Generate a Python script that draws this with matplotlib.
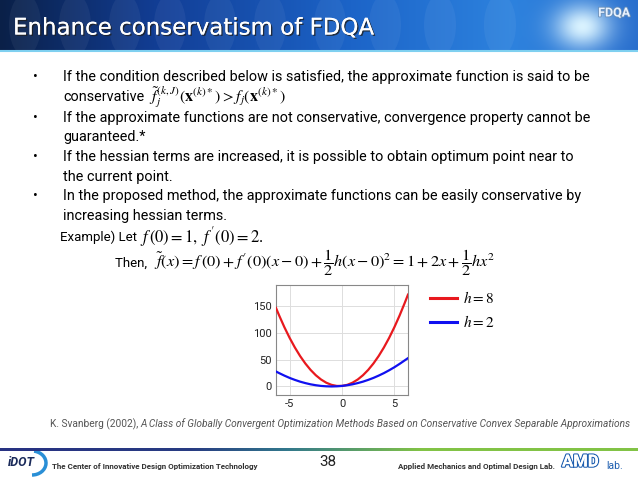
import numpy as np
import matplotlib
matplotlib.use("Agg")
import matplotlib.pyplot as plt
import matplotlib.patheffects as pe
from matplotlib.patches import Ellipse, Arc

plt.rcParams['font.family'] = ['Roboto', 'DejaVu Sans']
plt.rcParams['mathtext.fontset'] = 'stix'
plt.rcParams['axes.unicode_minus'] = False

# data: f~(x) = 1 + 2x + h/2 x^2
x_vals = [-6.3, -6, -5.5, -5, -4.5, -4, -3.5, -3, -2.5, -2, -1.5, -1, -0.5, 0,
          0.5, 1, 1.5, 2, 2.5, 3, 3.5, 4, 4.5, 5, 5.5, 6, 6.3]
h8_vals = [147, 133, 111, 91, 73, 57, 43, 31, 21, 13, 7, 3, 1, 1,
           3, 7, 13, 21, 31, 43, 57, 73, 91, 111, 133, 157, 172]
h2_vals = [28, 25, 20.3, 16, 12.3, 9, 6.3, 4, 2.3, 1, 0.3, 0, 0.3, 1,
           2.3, 4, 6.3, 9, 12.3, 16, 20.3, 25, 30.3, 36, 42.3, 49, 53]
series_labels = ['$h = 8$', '$h = 2$']
series_colors = ['#e8191e', '#1010f0']
y_ticks = [0, 50, 100, 150]
x_ticks = [-5, 0, 5]

bullets = [
    ["If the condition described below is satisfied, the approximate function is said to be",
     "conservative"],
    ["If the approximate functions are not conservative, convergence property cannot be",
     "guaranteed.*"],
    ["If the hessian terms are increased, it is possible to obtain optimum point near to",
     "the current point."],
    ["In the proposed method, the approximate functions can be easily conservative by",
     "increasing hessian terms."],
]
cons_math = r"$\tilde{f}_j^{(k,J)}(\mathbf{x}^{(k)*}) > f_j(\mathbf{x}^{(k)*})$"

W, H = 638, 478
fig = plt.figure(figsize=(W / 100, H / 100), dpi=100, facecolor='white')
bg = fig.add_axes([0, 0, 1, 1])
bg.set_xlim(0, W)
bg.set_ylim(H, 0)
bg.axis('off')

# ---- title bar gradient
gx = np.linspace(0, 1, W)
stops = [0, 0.25, 0.55, 0.8, 1.0]
cols = np.array([[10, 32, 72], [18, 62, 150], [28, 100, 200], [45, 130, 222], [40, 110, 205]]) / 255
bar = np.zeros((50, W, 3))
for c in range(3):
    bar[:, :, c] = np.interp(gx, stops, cols[:, c])[None, :]
yy, xx = np.mgrid[0:50, 0:W]
glow = np.exp(-(((xx - 582) / 28.0) ** 2 + ((yy - 26) / 22.0) ** 2))
bar = bar + glow[:, :, None] * (np.array([0.85, 0.95, 1.0]) - bar)
bg.imshow(bar, extent=[0, W, 50, 0], aspect='auto', zorder=1)
for ex in [25, 75, 125, 170, 220, 270, 330, 385, 440, 500]:
    bg.add_patch(Ellipse((ex, 25), 32, 62, facecolor='white', alpha=0.05,
                         edgecolor='none', zorder=2))
bg.plot([0, W], [50.5, 50.5], color='#7fd0f0', lw=1.5, zorder=3)
bg.text(13, 28, "Enhance conservatism of FDQA", color='white', fontsize=16.5,
        family='DejaVu Sans', va='center', ha='left', zorder=4,
        path_effects=[pe.withSimplePatchShadow(offset=(1, -1), shadow_rgbFace='#202020', alpha=0.8),
                      pe.Normal()])
bg.text(630, 13, "FDQA", color='#e8f2ff', fontsize=9, va='center', ha='right',
        fontweight='bold', zorder=4,
        path_effects=[pe.withStroke(linewidth=1.2, foreground='#6a8fb8')])

# ---- bullets
line_y = [77, 97, 118, 137, 157, 177, 196, 216]
k = 0
for b in bullets:
    bg.text(35, line_y[k], u"\u2022", fontsize=10, va='center', ha='center', color='black')
    for ln in b:
        t = bg.text(63, line_y[k], ln, fontsize=10.4, va='center', ha='left', color='black')
        if ln == "conservative":
            bg.annotate("  " + cons_math, xy=(1, 0.5), xycoords=t, fontsize=11.5,
                        va='center', ha='left')
        k += 1

# ---- example
t1 = bg.text(60, 237, "Example) Let ", fontsize=9.5, va='center', ha='left')
bg.annotate(r"$f\,(0) = 1,\ f\,'(0) = 2.$", xy=(1, 0.5), xycoords=t1, fontsize=12,
            va='center', ha='left')
t2 = bg.text(115, 263, "Then,  ", fontsize=9.5, va='center', ha='left')
bg.annotate(r"$\tilde{f}(x) = f\,(0) + f\,'(0)(x-0) + \dfrac{1}{2}h(x-0)^2 = 1 + 2x + \dfrac{1}{2}hx^2$",
            xy=(1, 0.5), xycoords=t2, fontsize=11.7, va='center', ha='left')

# ---- plot
ax = fig.add_axes([276 / W, 1 - 395 / H, 132 / W, 110 / H])
ax.plot(x_vals, h8_vals, color=series_colors[0], lw=1.6, zorder=3)
ax.plot(x_vals, h2_vals, color=series_colors[1], lw=1.6, zorder=3)
ax.set_xlim(-6.3, 6.3)
ax.set_ylim(-16, 190)
ax.set_xticks(x_ticks)
ax.set_yticks(y_ticks)
ax.grid(True, color='#dddddd', lw=0.7)
ax.tick_params(labelsize=8, length=0, pad=3, colors='#222222')
for s in ax.spines.values():
    s.set_color('#888888')
    s.set_linewidth(0.8)

# legend drawn at the right of the plot
for i, lab in enumerate(series_labels):
    ly = 298 + i * 24
    bg.plot([430, 457], [ly, ly], color=series_colors[i], lw=2.2)
    bg.text(463, ly, lab, fontsize=11, va='center', ha='left')

# ---- reference
ref = bg.text(50, 424, "K. Svanberg (2002), ", fontsize=7.25, color='#555555', va='center', ha='left')
bg.annotate("A Class of Globally Convergent Optimization Methods Based on Conservative Convex Separable Approximations",
            xy=(1, 0.5), xycoords=ref, fontsize=7.25, color='#555555', style='italic',
            va='center', ha='left')

# ---- footer separator
sep = np.zeros((1, W, 3))
fstops = [0, 0.3, 0.45, 0.66, 1.0]
fcols = np.array([[40, 50, 130], [40, 60, 130], [50, 120, 140], [130, 195, 70], [130, 195, 70]]) / 255
for c in range(3):
    sep[0, :, c] = np.interp(gx, fstops, fcols[:, c])
bg.imshow(sep, extent=[0, W, 451, 448], aspect='auto', zorder=2)

# footer logos / text
bg.add_patch(Arc((32, 463), 28, 24, theta1=-80, theta2=90, color='#2a8fd6', lw=2.5))
bg.text(8, 462, "iDOT", fontsize=9, fontweight='bold', style='italic', color='#1a2a5a',
        va='center', ha='left')
bg.text(52, 467, "The Center of Innovative Design Optimization Technology", fontsize=5.8,
        fontweight='bold', color='#333333', va='center', ha='left')
bg.text(328, 462, "38", fontsize=11, color='#222222', va='center', ha='center')
bg.text(555, 467, "Applied Mechanics and Optimal Design Lab.", fontsize=5.8,
        fontweight='bold', color='#333333', va='center', ha='right')
bg.text(562, 462, "AMD", fontsize=12, fontweight='bold', color='white', va='center', ha='left',
        path_effects=[pe.withStroke(linewidth=1.8, foreground='#1f5fb0'), pe.Normal()])
bg.text(606, 466, "lab.", fontsize=7.5, color='#1f5fb0', va='center', ha='left')

fig.savefig("out.png", dpi=100, facecolor='white')
